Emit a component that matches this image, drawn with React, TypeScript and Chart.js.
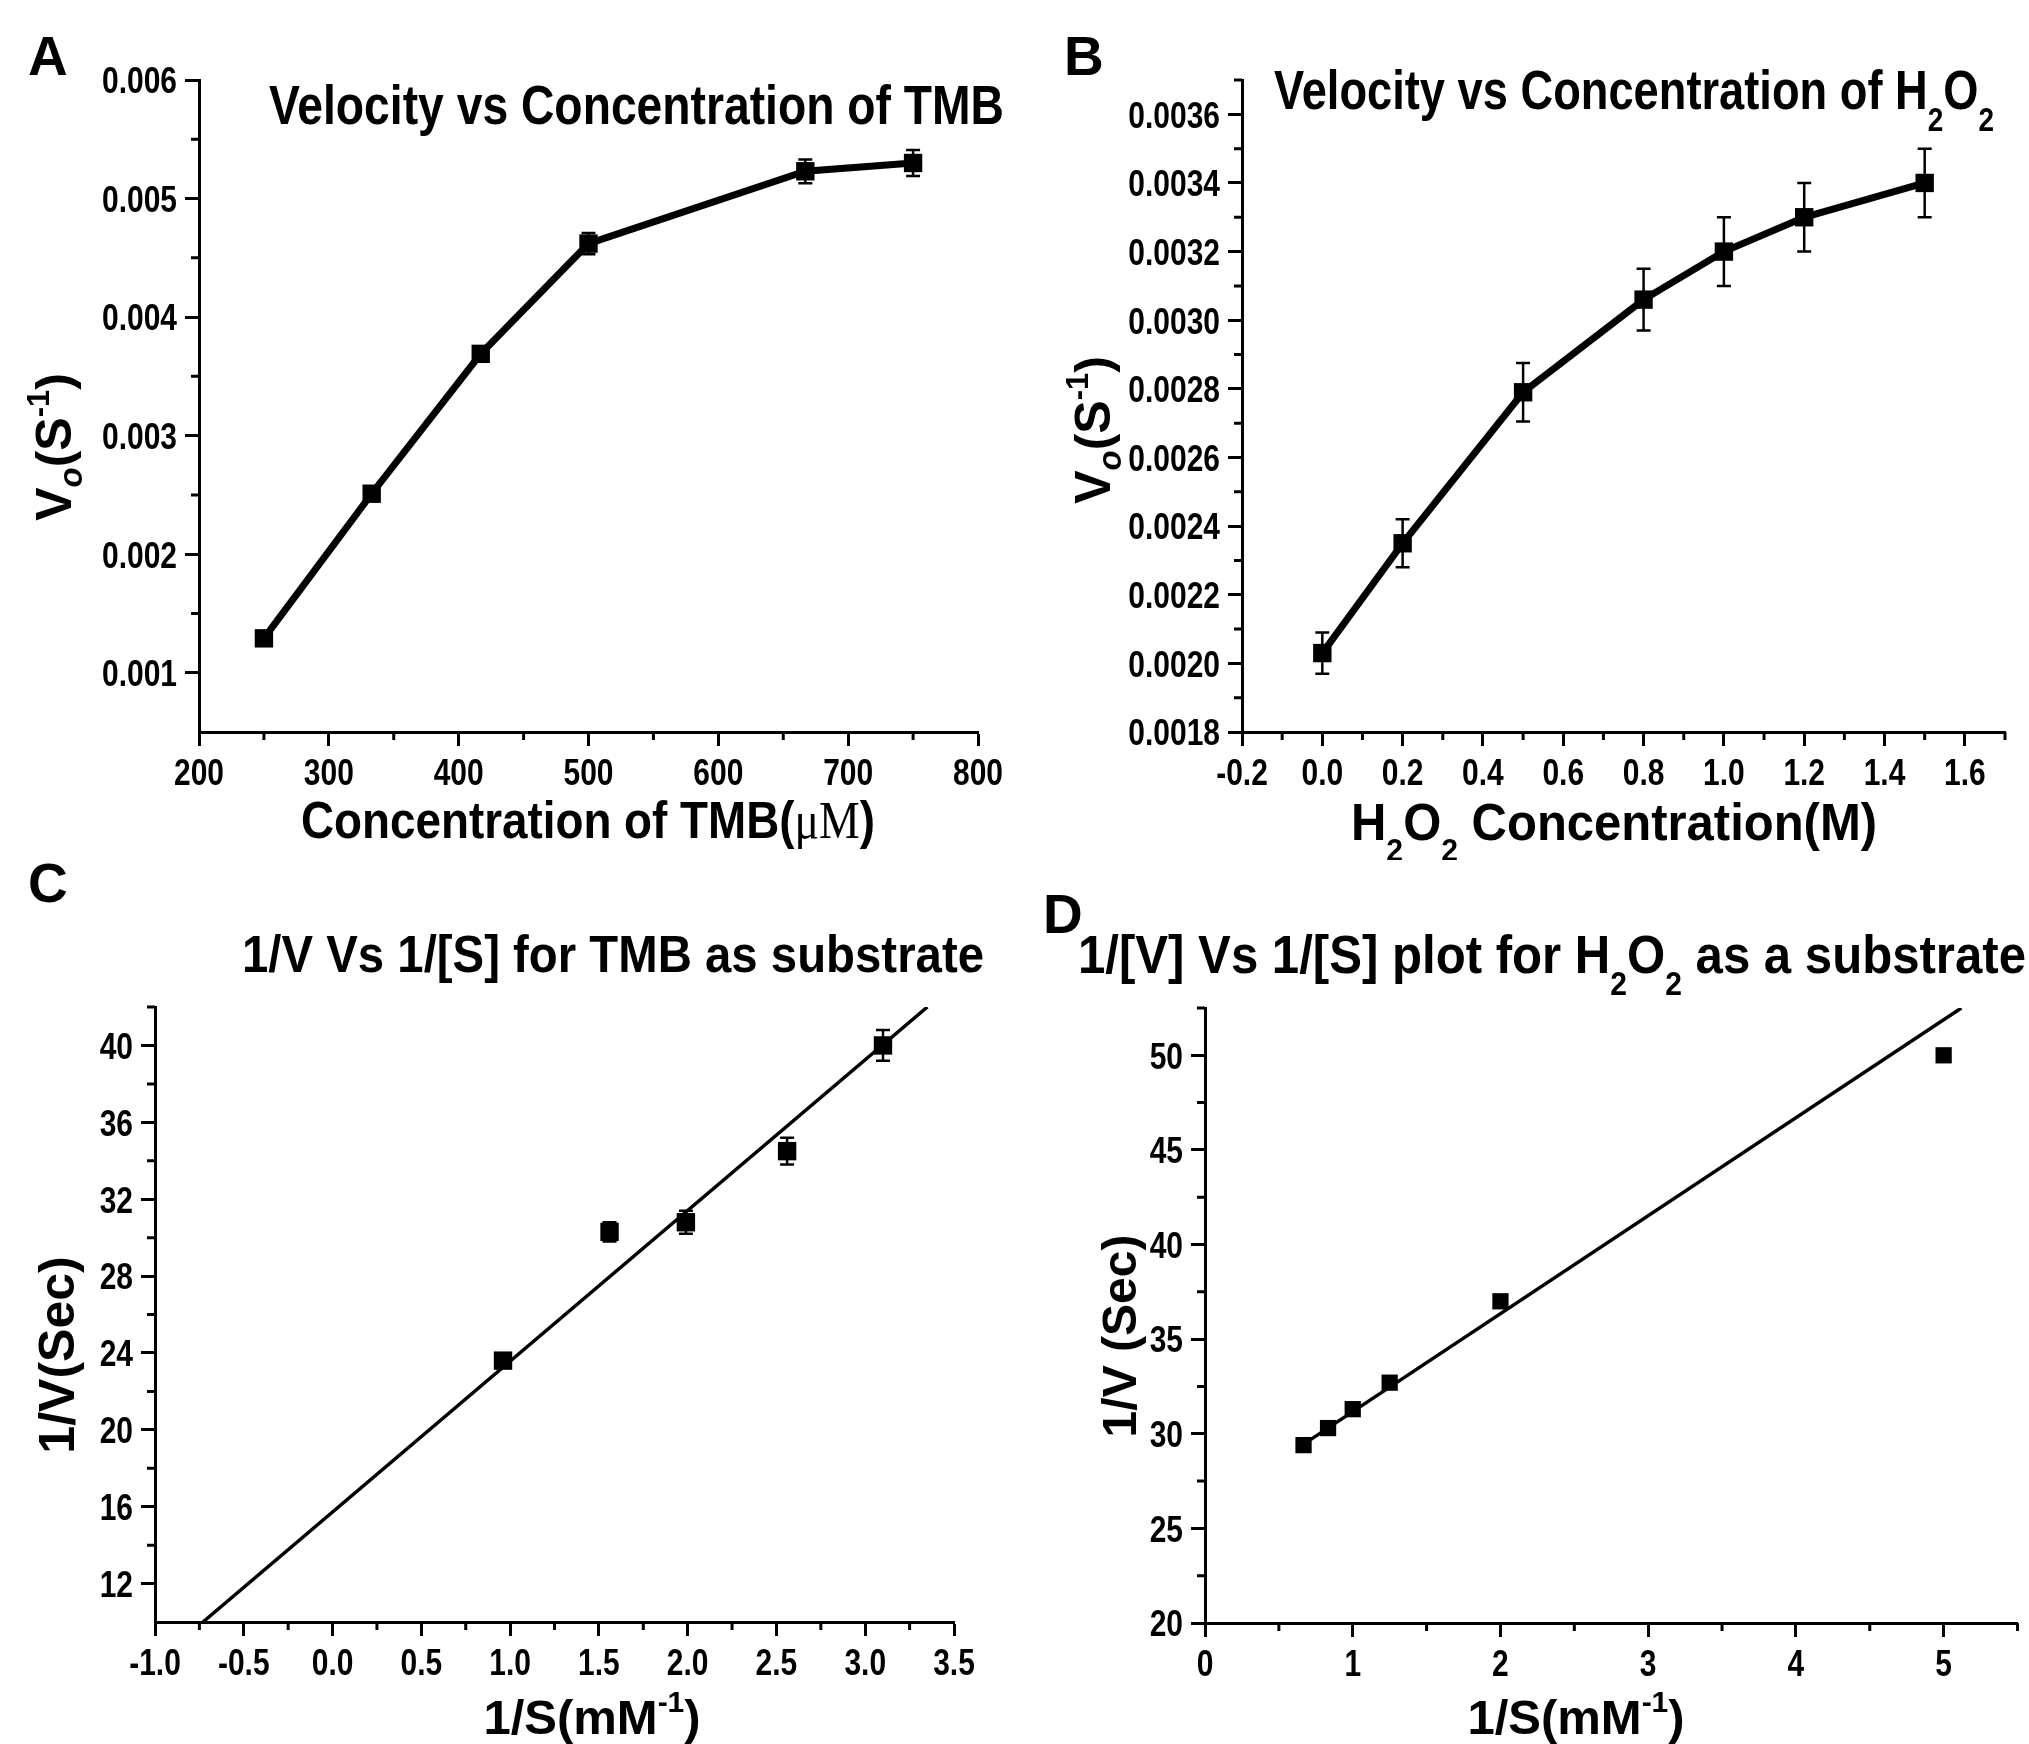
import React, { useEffect, useRef } from 'react';
import { Chart, registerables } from 'chart.js';

Chart.register(...registerables);

// ---------- Panel A: initial velocity vs TMB concentration ----------
const tmbConc = [250, 333, 417, 500, 667, 750];
const tmbVelocity = [0.00129, 0.00251, 0.00369, 0.00462, 0.00523, 0.0053];
const tmbVelocityErr = [0.00004, 0.00004, 0.00005, 0.00009, 0.0001, 0.00011];
const tmbConcTicks = [200, 300, 400, 500, 600, 700, 800];
const tmbConcLabels = ['200', '300', '400', '500', '600', '700', '800'];
const tmbConcMinor = [250, 350, 450, 550, 650, 750];
const tmbVelocityTicks = [0.001, 0.002, 0.003, 0.004, 0.005, 0.006];
const tmbVelocityLabels = ['0.001', '0.002', '0.003', '0.004', '0.005', '0.006'];
const tmbVelocityMinor = [0.0015, 0.0025, 0.0035, 0.0045, 0.0055];

// ---------- Panel B: initial velocity vs H2O2 concentration ----------
const h2o2Conc = [0, 0.2, 0.5, 0.8, 1.0, 1.2, 1.5];
const h2o2Velocity = [0.00203, 0.00235, 0.00279, 0.00306, 0.0032, 0.0033, 0.0034];
const h2o2VelocityErr = [0.00006, 0.00007, 0.000085, 0.00009, 0.0001, 0.0001, 0.0001];
const h2o2ConcTicks = [-0.2, 0, 0.2, 0.4, 0.6, 0.8, 1.0, 1.2, 1.4, 1.6];
const h2o2ConcLabels = ['-0.2', '0.0', '0.2', '0.4', '0.6', '0.8', '1.0', '1.2', '1.4', '1.6'];
const h2o2ConcMinor = [-0.1, 0.1, 0.3, 0.5, 0.7, 0.9, 1.1, 1.3, 1.5, 1.7];
const h2o2VelocityTicks = [0.0018, 0.002, 0.0022, 0.0024, 0.0026, 0.0028, 0.003, 0.0032, 0.0034, 0.0036];
const h2o2VelocityLabels = ['0.0018', '0.0020', '0.0022', '0.0024', '0.0026', '0.0028', '0.0030', '0.0032', '0.0034', '0.0036'];
const h2o2VelocityMinor = [0.0019, 0.0021, 0.0023, 0.0025, 0.0027, 0.0029, 0.0031, 0.0033, 0.0035, 0.0037];

// ---------- Panel C: Lineweaver–Burk, TMB ----------
const tmbInvS = [0.96, 1.56, 1.99, 2.56, 3.1];
const tmbInvV = [23.6, 30.3, 30.8, 34.5, 40.0];
const tmbInvVErr = [0.3, 0.5, 0.6, 0.7, 0.8];
const tmbFitX = [-0.73, 3.35];
const tmbFitY = [10, 42];
const tmbInvSTicks = [-1, -0.5, 0, 0.5, 1, 1.5, 2, 2.5, 3, 3.5];
const tmbInvSLabels = ['-1.0', '-0.5', '0.0', '0.5', '1.0', '1.5', '2.0', '2.5', '3.0', '3.5'];
const tmbInvSMinor = [-0.75, -0.25, 0.25, 0.75, 1.25, 1.75, 2.25, 2.75, 3.25];
const tmbInvVTicks = [12, 16, 20, 24, 28, 32, 36, 40];
const tmbInvVLabels = ['12', '16', '20', '24', '28', '32', '36', '40'];
const tmbInvVMinor = [14, 18, 22, 26, 30, 34, 38, 42];

// ---------- Panel D: Lineweaver–Burk, H2O2 ----------
const h2o2InvS = [0.667, 0.833, 1.0, 1.25, 2.0, 5.0];
const h2o2InvV = [29.4, 30.3, 31.3, 32.7, 37.0, 50.0];
const h2o2FitX = [0.62, 5.12];
const h2o2FitY = [29.2, 52.5];
const h2o2InvSTicks = [0, 1, 2, 3, 4, 5];
const h2o2InvSLabels = ['0', '1', '2', '3', '4', '5'];
const h2o2InvSMinor = [0.5, 1.5, 2.5, 3.5, 4.5, 5.5];
const h2o2InvVTicks = [20, 25, 30, 35, 40, 45, 50];
const h2o2InvVLabels = ['20', '25', '30', '35', '40', '45', '50'];
const h2o2InvVMinor = [22.5, 27.5, 32.5, 37.5, 42.5, 47.5, 52.5];

// ---------- text helpers ----------
const SANS = '"Liberation Sans", Arial, Helvetica, sans-serif';
const SERIF = '"Liberation Serif", "Times New Roman", serif';

type Run = { t: string; scale?: number; dy?: number; italic?: boolean; serif?: boolean; regular?: boolean };
type TextItem = {
  runs: Run[];
  x: number;
  y: number;
  size: number;
  align?: 'left' | 'center' | 'right';
  rotate?: boolean;
  width?: number;
  squeeze?: number;
};

const sub = (t: string): Run => ({ t, scale: 0.62, dy: 0.4 });
const sup = (t: string): Run => ({ t, scale: 0.62, dy: -0.45 });
const txt = (t: string): Run => ({ t });

function runFont(size: number, r: Run) {
  const px = Math.round(size * (r.scale ?? 1));
  return `${r.italic ? 'italic ' : ''}${r.regular ? '' : 'bold '}${px}px ${r.serif ? SERIF : SANS}`;
}

function drawText(ctx: CanvasRenderingContext2D, item: TextItem) {
  const widths = item.runs.map((r) => {
    ctx.font = runFont(item.size, r);
    return ctx.measureText(r.t).width;
  });
  const total = widths.reduce((a, b) => a + b, 0);
  const sx = item.width ? item.width / total : item.squeeze ?? 1;
  ctx.save();
  ctx.translate(item.x, item.y);
  if (item.rotate) ctx.rotate(-Math.PI / 2);
  ctx.scale(sx, 1);
  ctx.fillStyle = '#000';
  ctx.textAlign = 'left';
  ctx.textBaseline = 'alphabetic';
  let cx = item.align === 'center' ? -total / 2 : item.align === 'right' ? -total : 0;
  item.runs.forEach((r, i) => {
    ctx.font = runFont(item.size, r);
    ctx.fillText(r.t, cx, (r.dy ?? 0) * item.size);
    cx += widths[i];
  });
  ctx.restore();
}

// ---------- plugins ----------
const TICK_FONT = 37;
const TICK_SQUEEZE = 0.81;

const panelText = {
  id: 'panelText',
  afterDraw(chart: any, _args: any, opts: any) {
    const ctx = chart.ctx as CanvasRenderingContext2D;
    ctx.save();
    ctx.translate(-opts.originX, -opts.originY);
    (opts.items as TextItem[]).forEach((it) => drawText(ctx, it));
    ctx.restore();
  },
};

const tickText = {
  id: 'tickText',
  afterDraw(chart: any, _args: any, opts: any) {
    const ctx = chart.ctx as CanvasRenderingContext2D;
    const { left, bottom } = chart.chartArea;
    const xs = chart.scales.x;
    const ys = chart.scales.y;
    ctx.save();
    xs.ticks.forEach((tk: any, i: number) => {
      drawText(ctx, {
        runs: [txt(opts.xLabels[i])],
        x: xs.getPixelForValue(tk.value),
        y: bottom + opts.xGap,
        size: TICK_FONT,
        align: 'center',
        squeeze: TICK_SQUEEZE,
      });
    });
    ys.ticks.forEach((tk: any, i: number) => {
      drawText(ctx, {
        runs: [txt(opts.yLabels[i])],
        x: left - opts.yGap,
        y: ys.getPixelForValue(tk.value) + TICK_FONT * 0.36,
        size: TICK_FONT,
        align: 'right',
        squeeze: TICK_SQUEEZE,
      });
    });
    ctx.restore();
  },
};

const minorTicks = {
  id: 'minorTicks',
  afterDraw(chart: any, _args: any, opts: any) {
    const ctx = chart.ctx as CanvasRenderingContext2D;
    const { left, bottom } = chart.chartArea;
    const xs = chart.scales.x;
    const ys = chart.scales.y;
    ctx.save();
    ctx.strokeStyle = '#000';
    ctx.lineWidth = 3;
    ctx.beginPath();
    (opts.x as number[]).forEach((v) => {
      const px = xs.getPixelForValue(v);
      ctx.moveTo(px, bottom);
      ctx.lineTo(px, bottom + 8);
    });
    (opts.y as number[]).forEach((v) => {
      const py = ys.getPixelForValue(v);
      ctx.moveTo(left, py);
      ctx.lineTo(left - 8, py);
    });
    ctx.stroke();
    ctx.restore();
  },
};

const errorBars = {
  id: 'errorBars',
  beforeDatasetsDraw(chart: any, _args: any, opts: any) {
    if (!opts.errors) return;
    const ctx = chart.ctx as CanvasRenderingContext2D;
    const ys = chart.scales.y;
    const xs = chart.scales.x;
    const ds = chart.data.datasets[0].data as { x: number; y: number }[];
    ctx.save();
    ctx.strokeStyle = '#000';
    ctx.lineWidth = 2.5;
    ctx.beginPath();
    ds.forEach((p, i) => {
      const e = opts.errors[i];
      const px = xs.getPixelForValue(p.x);
      const top = ys.getPixelForValue(p.y + e);
      const bot = ys.getPixelForValue(p.y - e);
      ctx.moveTo(px, top);
      ctx.lineTo(px, bot);
      ctx.moveTo(px - 7, top);
      ctx.lineTo(px + 7, top);
      ctx.moveTo(px - 7, bot);
      ctx.lineTo(px + 7, bot);
    });
    ctx.stroke();
    ctx.restore();
  },
};

// ---------- panel specs ----------
type Box = { x: number; y: number; w: number; h: number };
type Plot = { l: number; r: number; t: number; b: number };

type PanelSpec = {
  box: Box;
  plot: Plot;
  xRange: [number, number];
  yRange: [number, number];
  xTicks: number[];
  yTicks: number[];
  xLabels: string[];
  yLabels: string[];
  xMinor: number[];
  yMinor: number[];
  datasets: any[];
  errors?: number[];
  text: TextItem[];
};

const AXIS_BOX = 20;

const pts = (xs: number[], ys: number[]) => xs.map((x, i) => ({ x, y: ys[i] }));

const markerSeries = (data: { x: number; y: number }[], line: boolean, radius: number) => ({
  data,
  showLine: line,
  borderColor: '#000',
  borderWidth: 7,
  pointStyle: 'rect',
  pointRadius: radius,
  pointBackgroundColor: '#000',
  pointBorderColor: '#000',
  pointBorderWidth: 0,
  clip: false,
});

const fitSeries = (data: { x: number; y: number }[]) => ({
  data,
  showLine: true,
  borderColor: '#000',
  borderWidth: 3.5,
  pointRadius: 0,
});

const panels: PanelSpec[] = [
  {
    box: { x: 0, y: 0, w: 1010, h: 860 },
    plot: { l: 199, r: 978, t: 80, b: 732 },
    xRange: [200, 800],
    yRange: [0.0005, 0.006],
    xTicks: tmbConcTicks,
    yTicks: tmbVelocityTicks,
    xLabels: tmbConcLabels,
    yLabels: tmbVelocityLabels,
    xMinor: tmbConcMinor,
    yMinor: tmbVelocityMinor,
    datasets: [markerSeries(pts(tmbConc, tmbVelocity), true, 13)],
    errors: tmbVelocityErr,
    text: [
      { runs: [txt('A')], x: 28, y: 75, size: 55 },
      { runs: [txt('Velocity vs Concentration of TMB')], x: 269, y: 124, size: 55, width: 735 },
      {
        runs: [txt('Concentration of TMB('), { t: 'μM', serif: true, regular: true }, txt(')')],
        x: 588, y: 838, size: 52, align: 'center', width: 574,
      },
      {
        runs: [txt('V'), { t: 'o', italic: true, scale: 0.65, dy: 0.22 }, txt('(S'), sup('-1'), txt(')')],
        x: 71, y: 447, size: 50, align: 'center', rotate: true,
      },
    ],
  },
  {
    box: { x: 1010, y: 0, w: 1019, h: 860 },
    plot: { l: 1242, r: 2005, t: 80, b: 732 },
    xRange: [-0.2, 1.7],
    yRange: [0.0018, 0.0037],
    xTicks: h2o2ConcTicks,
    yTicks: h2o2VelocityTicks,
    xLabels: h2o2ConcLabels,
    yLabels: h2o2VelocityLabels,
    xMinor: h2o2ConcMinor,
    yMinor: h2o2VelocityMinor,
    datasets: [markerSeries(pts(h2o2Conc, h2o2Velocity), true, 13)],
    errors: h2o2VelocityErr,
    text: [
      { runs: [txt('B')], x: 1064, y: 75, size: 55 },
      {
        runs: [txt('Velocity vs Concentration of H'), sub('2'), txt('O'), sub('2')],
        x: 1274, y: 109, size: 55, width: 720,
      },
      {
        runs: [txt('H'), sub('2'), txt('O'), sub('2'), txt(' Concentration(M)')],
        x: 1614, y: 840, size: 52, align: 'center', width: 526,
      },
      {
        runs: [txt('V'), { t: 'o', italic: true, scale: 0.65, dy: 0.22 }, txt('(S'), sup('-1'), txt(')')],
        x: 1110, y: 430, size: 50, align: 'center', rotate: true,
      },
    ],
  },
  {
    box: { x: 0, y: 860, w: 1010, h: 884 },
    plot: { l: 155, r: 954, t: 1007, b: 1622 },
    xRange: [-1, 3.5],
    yRange: [10, 42],
    xTicks: tmbInvSTicks,
    yTicks: tmbInvVTicks,
    xLabels: tmbInvSLabels,
    yLabels: tmbInvVLabels,
    xMinor: tmbInvSMinor,
    yMinor: tmbInvVMinor,
    datasets: [markerSeries(pts(tmbInvS, tmbInvV), false, 13), fitSeries(pts(tmbFitX, tmbFitY))],
    errors: tmbInvVErr,
    text: [
      { runs: [txt('C')], x: 28, y: 902, size: 55 },
      { runs: [txt('1/V Vs 1/[S] for TMB as substrate')], x: 242, y: 972, size: 52, width: 742 },
      { runs: [txt('1/S(mM'), sup('-1'), txt(')')], x: 592, y: 1734, size: 49, align: 'center' },
      { runs: [txt('1/V(Sec)')], x: 74, y: 1355, size: 50, align: 'center', rotate: true },
    ],
  },
  {
    box: { x: 1010, y: 860, w: 1019, h: 884 },
    plot: { l: 1205, r: 2026, t: 1008, b: 1623 },
    xRange: [0, 5.5],
    yRange: [20, 52.5],
    xTicks: h2o2InvSTicks,
    yTicks: h2o2InvVTicks,
    xLabels: h2o2InvSLabels,
    yLabels: h2o2InvVLabels,
    xMinor: h2o2InvSMinor,
    yMinor: h2o2InvVMinor,
    datasets: [markerSeries(pts(h2o2InvS, h2o2InvV), false, 11.5), fitSeries(pts(h2o2FitX, h2o2FitY))],
    text: [
      { runs: [txt('D')], x: 1043, y: 933, size: 55 },
      {
        runs: [txt('1/[V] Vs 1/[S] plot for H'), sub('2'), txt('O'), sub('2'), txt(' as a substrate')],
        x: 1078, y: 973, size: 54, width: 948,
      },
      { runs: [txt('1/S(mM'), sup('-1'), txt(')')], x: 1576, y: 1734, size: 49, align: 'center' },
      { runs: [txt('1/V (Sec)')], x: 1136, y: 1336, size: 48, align: 'center', rotate: true },
    ],
  },
];

function axisOptions(range: [number, number], ticks: number[], horizontal: boolean) {
  return {
    type: 'linear',
    position: horizontal ? 'bottom' : 'left',
    min: range[0],
    max: range[1],
    afterBuildTicks: (s: any) => {
      s.ticks = ticks.map((value) => ({ value }));
    },
    afterFit: (s: any) => {
      if (horizontal) s.height = AXIS_BOX;
      else s.width = AXIS_BOX;
    },
    ticks: { display: false },
    grid: {
      display: true,
      drawOnChartArea: false,
      drawTicks: true,
      tickLength: 14,
      tickWidth: 3,
      tickColor: '#000',
    },
    border: { display: true, width: 3, color: '#000' },
  };
}

function buildConfig(p: PanelSpec): any {
  return {
    type: 'scatter',
    data: { datasets: p.datasets },
    plugins: [errorBars, minorTicks, tickText, panelText],
    options: {
      responsive: false,
      animation: false,
      devicePixelRatio: 1,
      events: [],
      layout: {
        padding: {
          left: p.plot.l - p.box.x - AXIS_BOX,
          top: p.plot.t - p.box.y,
          right: p.box.x + p.box.w - p.plot.r,
          bottom: p.box.y + p.box.h - p.plot.b - AXIS_BOX,
        },
      },
      scales: {
        x: axisOptions(p.xRange, p.xTicks, true),
        y: axisOptions(p.yRange, p.yTicks, false),
      },
      plugins: {
        legend: { display: false },
        tooltip: { enabled: false },
        title: { display: false },
        errorBars: { errors: p.errors },
        minorTicks: { x: p.xMinor, y: p.yMinor },
        tickText: { xLabels: p.xLabels, yLabels: p.yLabels, xGap: 53, yGap: 22 },
        panelText: { items: p.text, originX: p.box.x, originY: p.box.y },
      },
    },
  };
}

function Panel({ spec }: { spec: PanelSpec }) {
  const ref = useRef<HTMLCanvasElement>(null);
  useEffect(() => {
    if (!ref.current) return;
    const chart = new Chart(ref.current, buildConfig(spec));
    return () => chart.destroy();
  }, [spec]);
  return (
    <canvas
      ref={ref}
      width={spec.box.w}
      height={spec.box.h}
      style={{
        position: 'absolute',
        left: spec.box.x,
        top: spec.box.y,
        width: spec.box.w,
        height: spec.box.h,
      }}
    />
  );
}

export default function App() {
  return (
    <div
      style={{
        position: 'absolute',
        left: 0,
        top: 0,
        width: 2029,
        height: 1744,
        background: '#fff',
        overflow: 'hidden',
      }}
    >
      {panels.map((p, i) => (
        <Panel key={i} spec={p} />
      ))}
    </div>
  );
}
